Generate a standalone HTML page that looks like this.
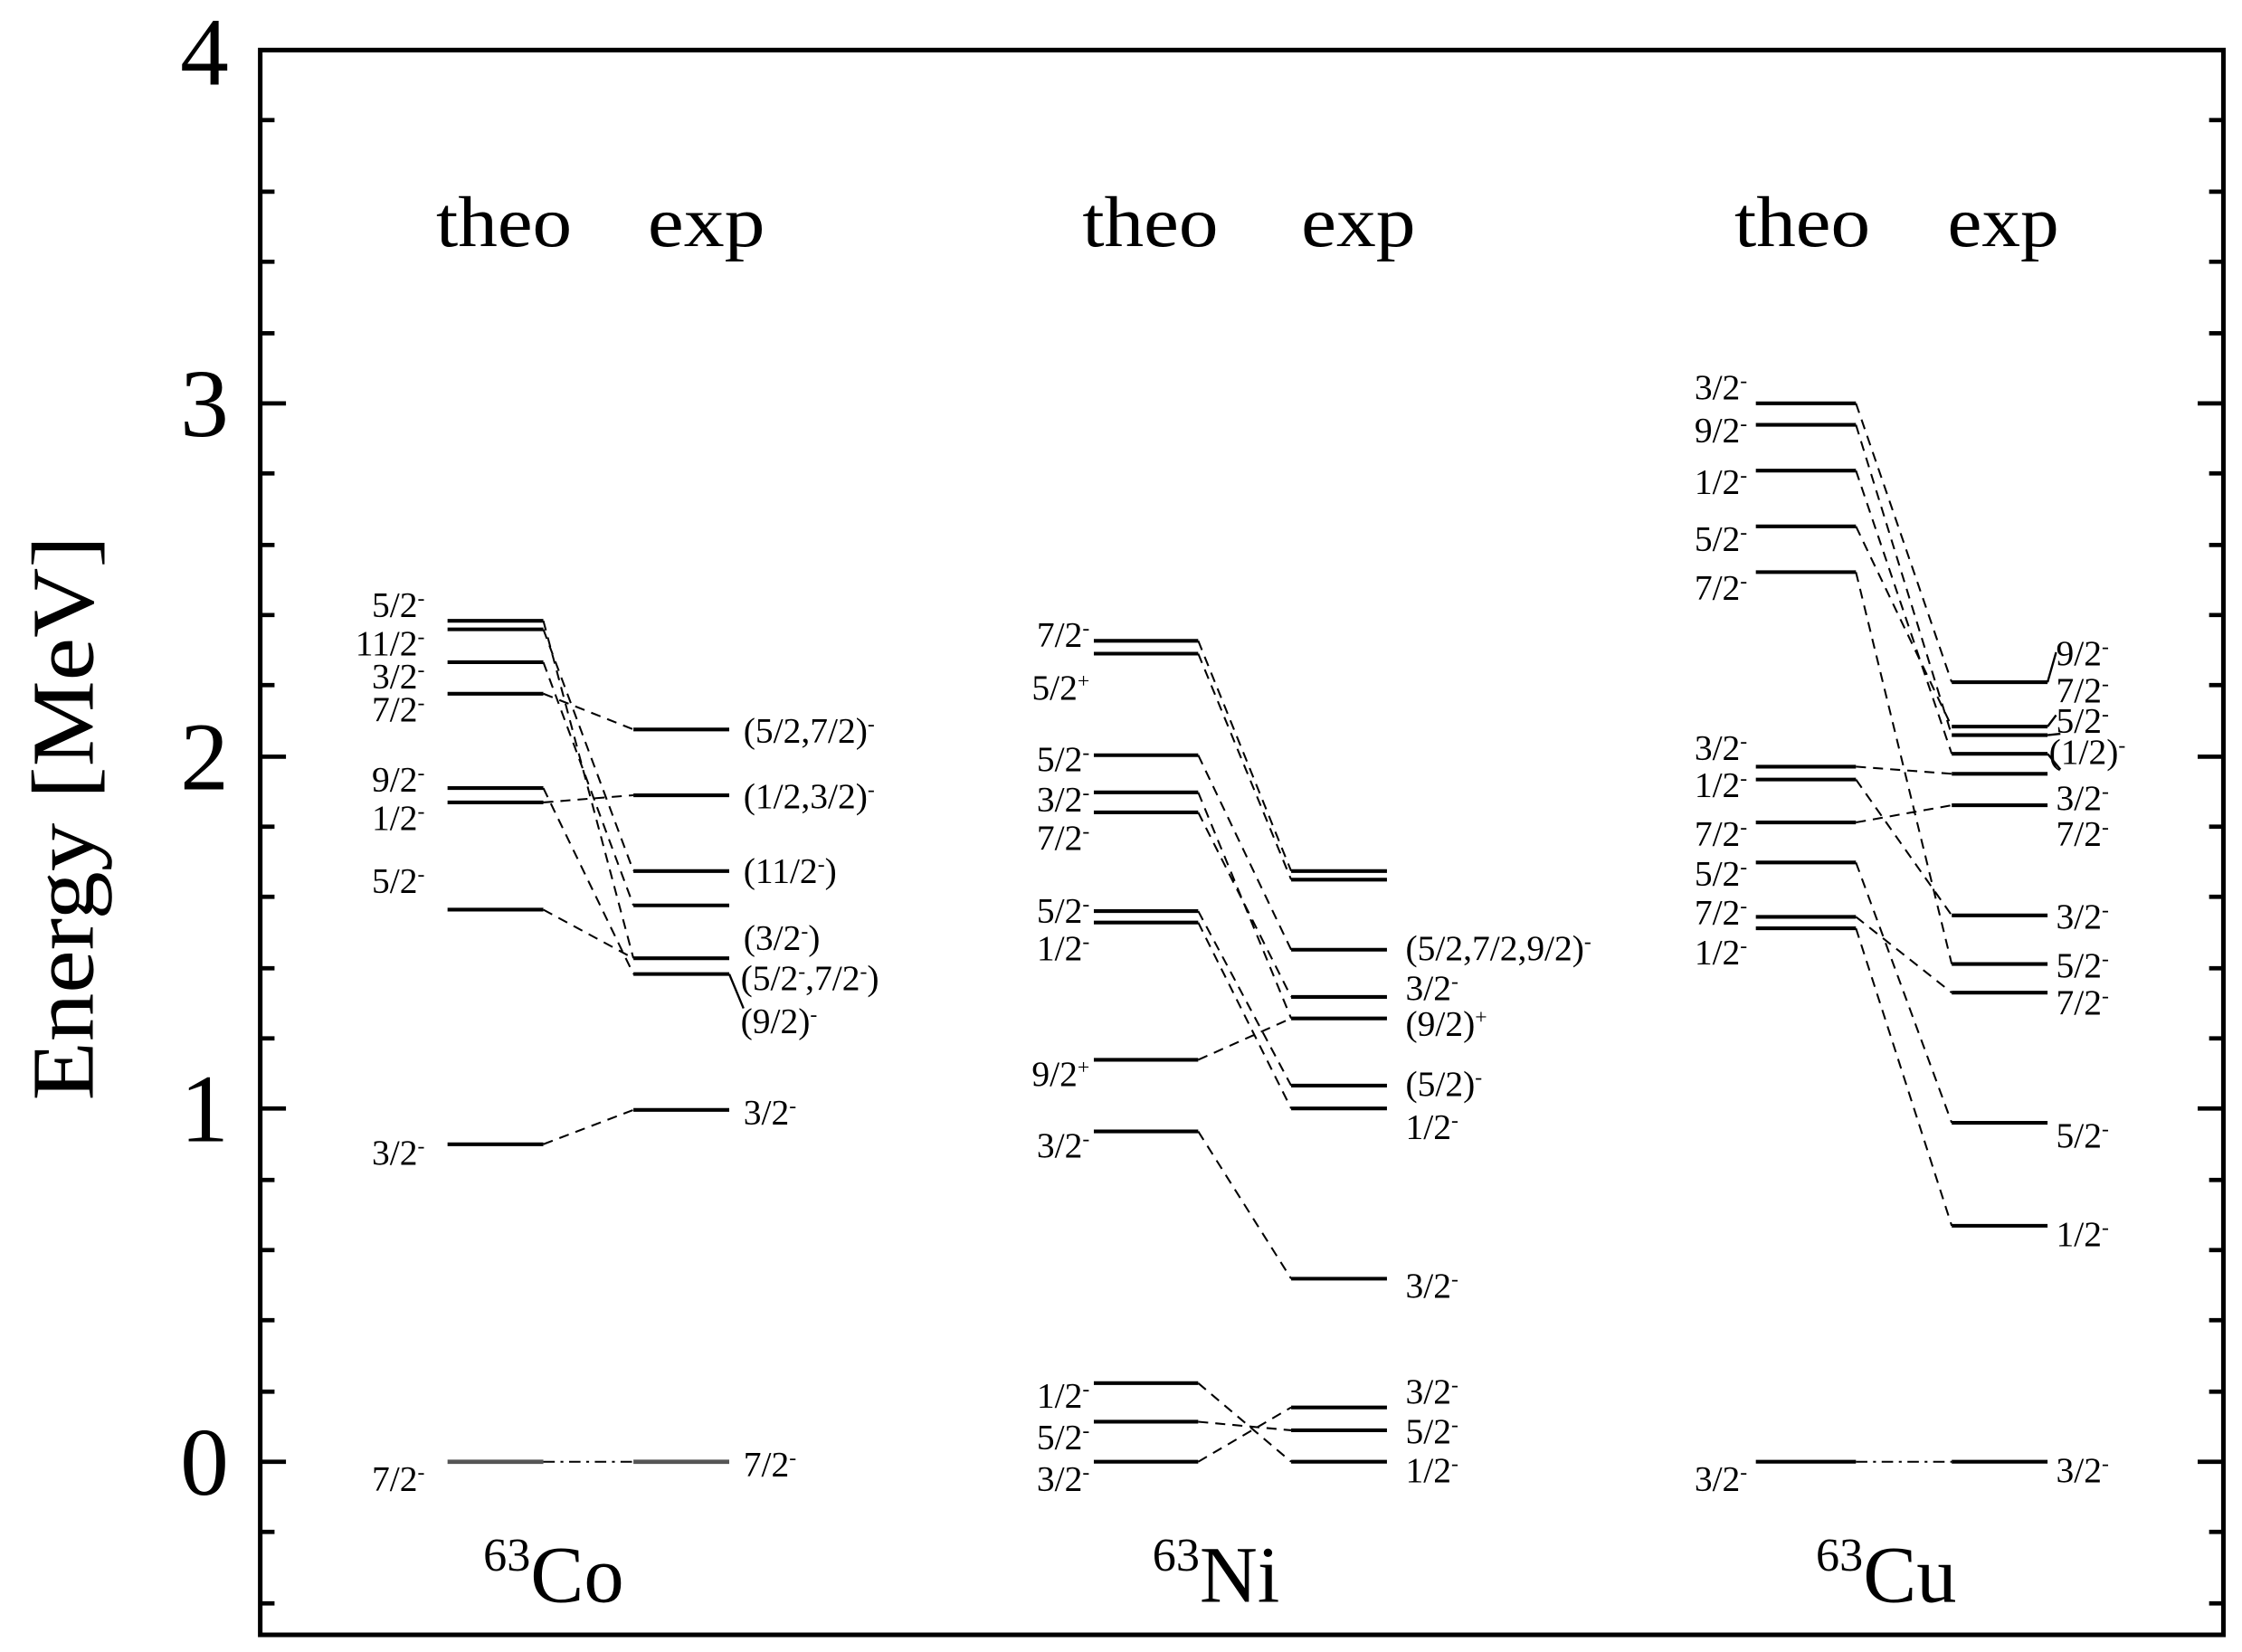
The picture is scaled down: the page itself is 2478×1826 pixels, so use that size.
<!DOCTYPE html>
<html><head><meta charset="utf-8"><style>
html,body{margin:0;padding:0;background:#fff}
svg{display:block}
text{font-family:"Liberation Serif",serif;fill:#000}
.l{font-size:25px}
.t{font-size:68px}
.h{font-size:50px}
.lv{stroke:#000;stroke-width:2.6;fill:none}
.d{stroke:#000;stroke-width:1.3;stroke-dasharray:7,5;fill:none}
.ax{stroke:#000;stroke-width:3.2;fill:none}
</style></head><body>
<svg width="2478" height="1826" viewBox="0 0 1568 1155" preserveAspectRatio="none" xmlns="http://www.w3.org/2000/svg">
<rect x="182" y="35" width="1373" height="1108" class="ax"/>
<g stroke="#000" stroke-width="3">
<line x1="182" y1="282" x2="200" y2="282"/><line x1="182" y1="529" x2="200" y2="529"/><line x1="182" y1="775" x2="200" y2="775"/><line x1="182" y1="1022" x2="200" y2="1022"/>
<line x1="1555" y1="282" x2="1537" y2="282"/><line x1="1555" y1="529" x2="1537" y2="529"/><line x1="1555" y1="775" x2="1537" y2="775"/><line x1="1555" y1="1022" x2="1537" y2="1022"/>
<path d="M182 84h10M182 134h10M182 183h10M182 233h10M182 331h10M182 381h10M182 430h10M182 479h10M182 578h10M182 627h10M182 677h10M182 726h10M182 825h10M182 874h10M182 923h10M182 973h10M182 1071h10M182 1121h10"/>
<path d="M1555 84h-10M1555 134h-10M1555 183h-10M1555 233h-10M1555 331h-10M1555 381h-10M1555 430h-10M1555 479h-10M1555 578h-10M1555 627h-10M1555 677h-10M1555 726h-10M1555 825h-10M1555 874h-10M1555 923h-10M1555 973h-10M1555 1071h-10M1555 1121h-10"/>
</g>
<text class="t" x="160" y="59" text-anchor="end">4</text>
<text class="t" x="160" y="305" text-anchor="end">3</text>
<text class="t" x="160" y="552" text-anchor="end">2</text>
<text class="t" x="160" y="798" text-anchor="end">1</text>
<text class="t" x="160" y="1045" text-anchor="end">0</text>
<text x="0" y="0" font-size="62" transform="translate(65,572) rotate(-90)" text-anchor="middle" textLength="395" lengthAdjust="spacingAndGlyphs">Energy [MeV]</text>

<text class="h" x="305" y="172" textLength="95" lengthAdjust="spacingAndGlyphs">theo</text>
<text class="h" x="453" y="172" textLength="82" lengthAdjust="spacingAndGlyphs">exp</text>
<text class="h" x="757" y="172" textLength="95" lengthAdjust="spacingAndGlyphs">theo</text>
<text class="h" x="910" y="172" textLength="80" lengthAdjust="spacingAndGlyphs">exp</text>
<text class="h" x="1213" y="172" textLength="95" lengthAdjust="spacingAndGlyphs">theo</text>
<text class="h" x="1362" y="172" textLength="78" lengthAdjust="spacingAndGlyphs">exp</text>

<text font-size="56" x="338" y="1120"><tspan font-size="33" dy="-22">63</tspan><tspan dy="22">Co</tspan></text>
<text font-size="56" x="806" y="1120"><tspan font-size="33" dy="-22">63</tspan><tspan dy="22">Ni</tspan></text>
<text font-size="56" x="1270" y="1120"><tspan font-size="33" dy="-22">63</tspan><tspan dy="22">Cu</tspan></text>

<g class="lv">
<line x1="313" y1="1022" x2="380" y2="1022" stroke="#555" stroke-width="3"/>
<line x1="443" y1="1022" x2="510" y2="1022" stroke="#555" stroke-width="3"/>
<path d="M313 800H380M313 636H380M313 561H380M313 551H380M313 485H380M313 463H380M313 440H380M313 434H380"/>
<path d="M443 776H510M443 681H510M443 670H510M443 633H510M443 609H510M443 556H510M443 510H510"/>
<path d="M510 681L520 705" stroke-width="1.5"/>
</g>
<path d="M380 1022H443" stroke="#000" stroke-width="1.3" stroke-dasharray="8,4,2,4"/>
<path class="d" d="M380 800L443 776M380 636L443 670M380 561L443 556M380 551L443 681M380 485L443 510M380 463L443 633M380 440L443 609M380 434L443 670"/>
<g class="l">
<text x="297" y="1042" text-anchor="end">7/2<tspan baseline-shift="super" font-size="15">-</tspan></text>
<text x="297" y="814" text-anchor="end">3/2<tspan baseline-shift="super" font-size="15">-</tspan></text>
<text x="297" y="624" text-anchor="end">5/2<tspan baseline-shift="super" font-size="15">-</tspan></text>
<text x="297" y="580" text-anchor="end">1/2<tspan baseline-shift="super" font-size="15">-</tspan></text>
<text x="297" y="553" text-anchor="end">9/2<tspan baseline-shift="super" font-size="15">-</tspan></text>
<text x="297" y="504" text-anchor="end">7/2<tspan baseline-shift="super" font-size="15">-</tspan></text>
<text x="297" y="481" text-anchor="end">3/2<tspan baseline-shift="super" font-size="15">-</tspan></text>
<text x="297" y="458" text-anchor="end">11/2<tspan baseline-shift="super" font-size="15">-</tspan></text>
<text x="297" y="431" text-anchor="end">5/2<tspan baseline-shift="super" font-size="15">-</tspan></text>
<text x="520" y="1032">7/2<tspan baseline-shift="super" font-size="15">-</tspan></text>
<text x="520" y="786">3/2<tspan baseline-shift="super" font-size="15">-</tspan></text>
<text x="518" y="722">(9/2)<tspan baseline-shift="super" font-size="15">-</tspan></text>
<text x="518" y="692">(5/2<tspan baseline-shift="super" font-size="15">-</tspan>,7/2<tspan baseline-shift="super" font-size="15">-</tspan>)</text>
<text x="520" y="664">(3/2<tspan baseline-shift="super" font-size="15">-</tspan>)</text>
<text x="520" y="617">(11/2<tspan baseline-shift="super" font-size="15">-</tspan>)</text>
<text x="520" y="565">(1/2,3/2)<tspan baseline-shift="super" font-size="15">-</tspan></text>
<text x="520" y="519">(5/2,7/2)<tspan baseline-shift="super" font-size="15">-</tspan></text>
</g>

<g class="lv">
<path d="M765 1022H838M765 994H838M765 967H838M765 791H838M765 741H838M765 645H838M765 637H838M765 568H838M765 554H838M765 528H838M765 457H838M765 448H838"/>
<path d="M903 1022H970M903 1000H970M903 984H970M903 894H970M903 775H970M903 759H970M903 712H970M903 697H970M903 664H970M903 615H970M903 609H970"/>
</g>
<path class="d" d="M838 1022L903 984M838 994L903 1000M838 967L903 1022M838 791L903 894M838 741L903 712M838 645L903 775M838 637L903 759M838 568L903 697M838 554L903 712M838 528L903 664M838 457L903 615M838 448L903 609"/>
<g class="l">
<text x="762" y="1042" text-anchor="end">3/2<tspan baseline-shift="super" font-size="15">-</tspan></text>
<text x="762" y="1013" text-anchor="end">5/2<tspan baseline-shift="super" font-size="15">-</tspan></text>
<text x="762" y="984" text-anchor="end">1/2<tspan baseline-shift="super" font-size="15">-</tspan></text>
<text x="762" y="809" text-anchor="end">3/2<tspan baseline-shift="super" font-size="15">-</tspan></text>
<text x="762" y="759" text-anchor="end">9/2<tspan baseline-shift="super" font-size="15">+</tspan></text>
<text x="762" y="671" text-anchor="end">1/2<tspan baseline-shift="super" font-size="15">-</tspan></text>
<text x="762" y="645" text-anchor="end">5/2<tspan baseline-shift="super" font-size="15">-</tspan></text>
<text x="762" y="594" text-anchor="end">7/2<tspan baseline-shift="super" font-size="15">-</tspan></text>
<text x="762" y="567" text-anchor="end">3/2<tspan baseline-shift="super" font-size="15">-</tspan></text>
<text x="762" y="539" text-anchor="end">5/2<tspan baseline-shift="super" font-size="15">-</tspan></text>
<text x="762" y="489" text-anchor="end">5/2<tspan baseline-shift="super" font-size="15">+</tspan></text>
<text x="762" y="452" text-anchor="end">7/2<tspan baseline-shift="super" font-size="15">-</tspan></text>
<text x="983" y="1036">1/2<tspan baseline-shift="super" font-size="15">-</tspan></text>
<text x="983" y="1009">5/2<tspan baseline-shift="super" font-size="15">-</tspan></text>
<text x="983" y="981">3/2<tspan baseline-shift="super" font-size="15">-</tspan></text>
<text x="983" y="907">3/2<tspan baseline-shift="super" font-size="15">-</tspan></text>
<text x="983" y="796">1/2<tspan baseline-shift="super" font-size="15">-</tspan></text>
<text x="983" y="766">(5/2)<tspan baseline-shift="super" font-size="15">-</tspan></text>
<text x="983" y="724">(9/2)<tspan baseline-shift="super" font-size="15">+</tspan></text>
<text x="983" y="699">3/2<tspan baseline-shift="super" font-size="15">-</tspan></text>
<text x="983" y="671">(5/2,7/2,9/2)<tspan baseline-shift="super" font-size="15">-</tspan></text>
</g>

<g class="lv">
<path d="M1228 1022H1298M1228 649H1298M1228 641H1298M1228 603H1298M1228 575H1298M1228 545H1298M1228 536H1298M1228 400H1298M1228 368H1298M1228 329H1298M1228 297H1298M1228 282H1298"/>
<path d="M1365 1022H1432M1365 857H1432M1365 785H1432M1365 694H1432M1365 674H1432M1365 640H1432M1365 563H1432M1365 541H1432M1365 527H1432M1365 514H1432M1365 508H1432M1365 477H1432"/>
<path d="M1432 477L1438 456M1432 508L1438 500M1432 514L1441 513M1432 527L1441 538" stroke-width="1.5"/>
</g>
<path d="M1298 1022H1365" stroke="#000" stroke-width="1.3" stroke-dasharray="8,4,2,4"/>
<path class="d" d="M1298 649L1365 857M1298 641L1365 694M1298 603L1365 785M1298 575L1365 563M1298 545L1365 640M1298 536L1365 541M1298 400L1365 674M1298 368L1365 508M1298 329L1365 527M1298 297L1365 514M1298 282L1365 477"/>
<g class="l">
<text x="1222" y="1042" text-anchor="end">3/2<tspan baseline-shift="super" font-size="15">-</tspan></text>
<text x="1222" y="674" text-anchor="end">1/2<tspan baseline-shift="super" font-size="15">-</tspan></text>
<text x="1222" y="646" text-anchor="end">7/2<tspan baseline-shift="super" font-size="15">-</tspan></text>
<text x="1222" y="619" text-anchor="end">5/2<tspan baseline-shift="super" font-size="15">-</tspan></text>
<text x="1222" y="591" text-anchor="end">7/2<tspan baseline-shift="super" font-size="15">-</tspan></text>
<text x="1222" y="557" text-anchor="end">1/2<tspan baseline-shift="super" font-size="15">-</tspan></text>
<text x="1222" y="531" text-anchor="end">3/2<tspan baseline-shift="super" font-size="15">-</tspan></text>
<text x="1222" y="419" text-anchor="end">7/2<tspan baseline-shift="super" font-size="15">-</tspan></text>
<text x="1222" y="385" text-anchor="end">5/2<tspan baseline-shift="super" font-size="15">-</tspan></text>
<text x="1222" y="345" text-anchor="end">1/2<tspan baseline-shift="super" font-size="15">-</tspan></text>
<text x="1222" y="309" text-anchor="end">9/2<tspan baseline-shift="super" font-size="15">-</tspan></text>
<text x="1222" y="279" text-anchor="end">3/2<tspan baseline-shift="super" font-size="15">-</tspan></text>
<text x="1438" y="1036">3/2<tspan baseline-shift="super" font-size="15">-</tspan></text>
<text x="1438" y="871">1/2<tspan baseline-shift="super" font-size="15">-</tspan></text>
<text x="1438" y="802">5/2<tspan baseline-shift="super" font-size="15">-</tspan></text>
<text x="1438" y="709">7/2<tspan baseline-shift="super" font-size="15">-</tspan></text>
<text x="1438" y="683">5/2<tspan baseline-shift="super" font-size="15">-</tspan></text>
<text x="1438" y="649">3/2<tspan baseline-shift="super" font-size="15">-</tspan></text>
<text x="1438" y="591">7/2<tspan baseline-shift="super" font-size="15">-</tspan></text>
<text x="1438" y="566">3/2<tspan baseline-shift="super" font-size="15">-</tspan></text>
<text x="1433" y="534">(1/2)<tspan baseline-shift="super" font-size="15">-</tspan></text>
<text x="1438" y="512">5/2<tspan baseline-shift="super" font-size="15">-</tspan></text>
<text x="1438" y="491">7/2<tspan baseline-shift="super" font-size="15">-</tspan></text>
<text x="1438" y="465">9/2<tspan baseline-shift="super" font-size="15">-</tspan></text>
</g>
</svg>
</body></html>
